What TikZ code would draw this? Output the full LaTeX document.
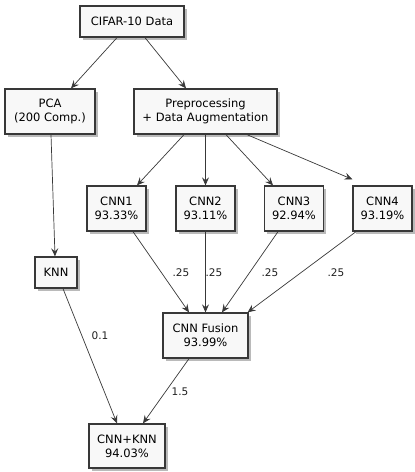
\documentclass[tikz,border=0pt]{standalone}
\usepackage{fontspec}
\setmainfont{DejaVu Sans}
\usetikzlibrary{arrows.meta,shadows}
\definecolor{boxfill}{HTML}{F8F8F8}
\definecolor{boxline}{HTML}{383838}
\definecolor{lbl}{HTML}{202020}
\begin{document}
\begin{tikzpicture}[x=1pt,y=-1pt,
  box/.style={draw=boxline,fill=boxfill,line width=1.3pt,align=center,inner sep=0pt,
    font=\fontsize{11.5}{14}\selectfont,
    drop shadow={shadow xshift=2.5pt,shadow yshift=-2.5pt,fill=black!45,opacity=0.6}},
  conn/.style={draw=boxline,line width=0.7pt,-{Stealth[length=8pt,width=7pt,inset=3pt]}},
  wt/.style={font=\fontsize{10.5}{12}\selectfont,text=lbl,inner sep=0pt}]
\useasboundingbox (0,0) rectangle (415,472);
\node[box,minimum width=104pt,minimum height=31pt] (cifar) at (132,21.5) {CIFAR-10 Data};
\node[box,minimum width=90pt,minimum height=45pt] (pca) at (50,111.5) {PCA\\(200 Comp.)};
\node[box,minimum width=143pt,minimum height=45pt] (prep) at (205.5,111.5) {Preprocessing\\+ Data Augmentation};
\node[box,minimum width=59pt,minimum height=45pt] (c1) at (116.5,208.5) {CNN1\\93.33\%};
\node[box,minimum width=59pt,minimum height=45pt] (c2) at (205.5,208.5) {CNN2\\93.11\%};
\node[box,minimum width=59pt,minimum height=45pt] (c3) at (294,208.5) {CNN3\\92.94\%};
\node[box,minimum width=59pt,minimum height=45pt] (c4) at (382.5,208.5) {CNN4\\93.19\%};
\node[box,minimum width=42pt,minimum height=31pt] (knn) at (56,272.5) {KNN};
\node[box,minimum width=85pt,minimum height=45pt] (fus) at (205.5,335.5) {CNN Fusion\\93.99\%};
\node[box,minimum width=76pt,minimum height=44pt] (ck) at (127,446) {CNN+KNN\\94.03\%};
% connectors
\draw[conn] ([xshift=-15pt]cifar.south) -- ([xshift=21pt]pca.north);
\draw[conn] ([xshift=13pt]cifar.south) -- ([xshift=-19.5pt]prep.north);
\draw[conn] ([xshift=1pt]pca.south) -- ([xshift=-1pt]knn.north);
\draw[conn] ([xshift=-21.5pt]prep.south) -- ([xshift=20.5pt]c1.north);
\draw[conn] (prep.south) -- (c2.north);
\draw[conn] ([xshift=20.5pt]prep.south) -- ([xshift=-21pt]c3.north);
\draw[conn] ([xshift=41.5pt]prep.south) -- ([yshift=6pt]c4.north west);
\draw[conn] ([xshift=16.5pt]c1.south) -- ([xshift=-16.5pt]fus.north);
\draw[conn] (c2.south) -- (fus.north);
\draw[conn] ([xshift=-16pt]c3.south) -- ([xshift=16.5pt]fus.north);
\draw[conn] ([xshift=-26.5pt]c4.south) -- ([xshift=-1pt]fus.north east);
\draw[conn] ([xshift=7pt]knn.south) -- ([xshift=-10pt]ck.north);
\draw[conn] ([xshift=-16.5pt]fus.south) -- ([xshift=16pt]ck.north);
% weights
\node[wt] (w1) at (181,273) {.25};
\node[wt] (w2) at (214,273) {.25};
\node[wt] (w3) at (270,273) {.25};
\node[wt] (w4) at (336,273) {.25};
\node[wt] (w5) at (100,336) {0.1};
\node[wt] (w6) at (180,392) {1.5};
\end{tikzpicture}
\end{document}
